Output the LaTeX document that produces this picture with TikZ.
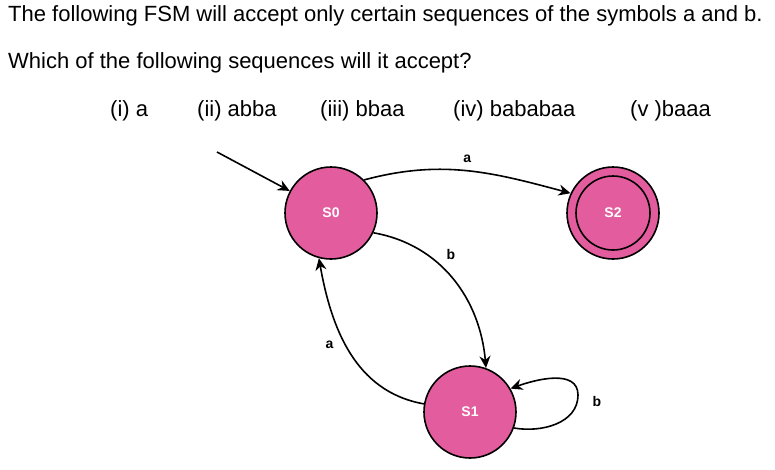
\documentclass[tikz,border=0pt]{standalone}
\usepackage{fontspec}
\setmainfont{Liberation Sans}
\usetikzlibrary{arrows.meta}
\definecolor{st}{HTML}{E35D9E}
\begin{document}
\begin{tikzpicture}[x=1pt,y=-1pt,
  state/.style={circle,draw=black,line width=1.6pt,fill=st,minimum size=92pt,inner sep=0pt,text=white,font=\bfseries\fontsize{14}{16}\selectfont},
  tr/.style={-{Stealth[length=12pt,width=11pt]},line width=1.6pt},
  lab/.style={font=\bfseries\fontsize{14}{16}\selectfont},
  txt/.style={anchor=west,font=\fontsize{22}{26}\selectfont,inner sep=0pt}]
\useasboundingbox[fill=white] (0,0) rectangle (775,469);
\node[txt] (t1) at (8,16) {The following FSM will accept only certain sequences of the symbols a and b.};
\node[txt] (t2) at (8,63) {Which of the following sequences will it accept?};
\node[txt] (o1) at (110,111) {(i) a};
\node[txt] (o2) at (197,111) {(ii) abba};
\node[txt] (o3) at (320,111) {(iii) bbaa};
\node[txt] (o4) at (453,111) {(iv) bababaa};
\node[txt] (o5) at (630,111) {(v )baaa};
\node[state] (s0) at (331,213) {S0};
\node[state] (s2) at (613,213) {};
\node[circle,draw=black,line width=1.6pt,minimum size=74pt,text=white,font=\bfseries\fontsize{14}{16}\selectfont] (s2i) at (613,213) {S2};
\node[state] (s1) at (470,412) {S1};
\coordinate (st) at (217,152);
\draw[tr] (st) -- (s0);
\draw[tr] (s0.45) to[out=15,in=165] node[lab,above=4pt] {a} (s2.155);
\draw[tr] (s0.-25) to[out=-10,in=95] node[lab,pos=0.4,above right=2pt] {b} (s1.70);
\draw[tr] (s1.170) to[out=170,in=-80] node[lab,pos=0.55,left=8pt] {a} (s0.255);
\draw[tr] (s1.-20) to[out=-10,in=-90] (578,395) to[out=90,in=20] (s1.30);
\node[lab] (lb) at (597,401) {b};
\end{tikzpicture}
\end{document}
